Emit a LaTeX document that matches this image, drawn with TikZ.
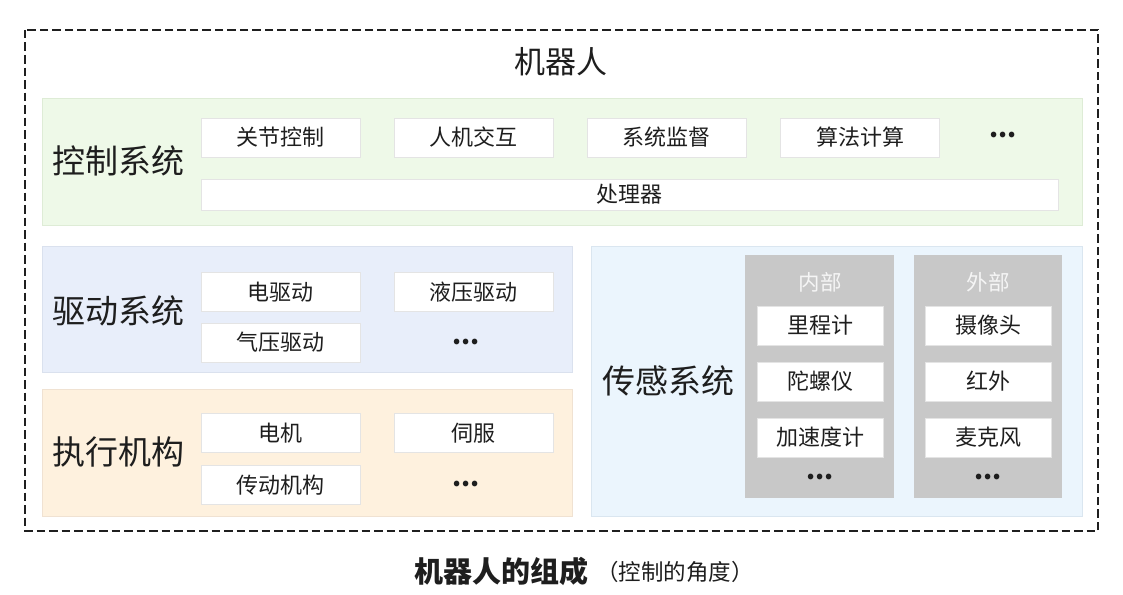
\documentclass[tikz,border=0pt]{standalone}
\usepackage{fontspec}
\setmainfont{Noto Sans CJK SC}
\definecolor{txt}{RGB}{30,30,30}
\definecolor{ctrlfill}{RGB}{238,249,232}
\definecolor{ctrldraw}{RGB}{222,236,214}
\definecolor{drvfill}{RGB}{232,238,250}
\definecolor{drvdraw}{RGB}{218,225,238}
\definecolor{actfill}{RGB}{254,241,222}
\definecolor{actdraw}{RGB}{240,226,210}
\definecolor{senfill}{RGB}{235,245,253}
\definecolor{sendraw}{RGB}{218,230,240}
\definecolor{colfill}{RGB}{200,200,200}
\definecolor{itemdraw}{RGB}{228,228,228}
\begin{document}
\begin{tikzpicture}[x=1pt,y=-1pt,
  panel/.style={line width=0.8pt},
  item/.style={draw=itemdraw, line width=0.8pt, fill=white, inner sep=0pt,
    minimum width=159pt, minimum height=39pt, text=txt,
    font=\fontsize{22}{26}\selectfont},
  sitem/.style={item, minimum width=126pt},
  seclabel/.style={text=txt, inner sep=0pt, font=\fontsize{33}{37}\selectfont},
  dots/.style={text=txt, inner sep=0pt, font=\fontsize{26}{30}\selectfont\bfseries},
  colhead/.style={text=white!96!black, inner sep=0pt, font=\fontsize{21.5}{25}\selectfont}
]
\useasboundingbox (0,0) rectangle (1123,594);
\fill[white] (0,0) rectangle (1123,594);

% outer frame
\draw[black!88, line width=1.8pt, dash pattern=on 8.5pt off 4pt] (25,30) rectangle (1098,531);
\node[text=txt, inner sep=0pt, font=\fontsize{31}{35}\selectfont] (title) at (561,62) {机器人};

% control system
\draw[panel, draw=ctrldraw, fill=ctrlfill] (42,98) rectangle (1082,225);
\node[seclabel] (ctrl) at (118,161) {控制系统};
\node[item] (c1) at (280.5,137.5) {关节控制};
\node[item] (c2) at (473.5,137.5) {人机交互};
\node[item] (c3) at (666.5,137.5) {系统监督};
\node[item] (c4) at (860,137.5) {算法计算};
\node[dots] (c5) at (1003,135) {...};
\node[item, minimum width=857pt, minimum height=31pt] (cpu) at (629.5,194.5) {处理器};

% drive system
\draw[panel, draw=drvdraw, fill=drvfill] (42,246) rectangle (572,372);
\node[seclabel] (drv) at (118,311) {驱动系统};
\node[item] (d1) at (280.5,292) {电驱动};
\node[item] (d2) at (473.5,292) {液压驱动};
\node[item] (d3) at (280.5,342.5) {气压驱动};
\node[dots] (d4) at (466,342) {...};

% actuators
\draw[panel, draw=actdraw, fill=actfill] (42,389) rectangle (572,516);
\node[seclabel] (act) at (118,452) {执行机构};
\node[item] (a1) at (280.5,433) {电机};
\node[item] (a2) at (473.5,433) {伺服};
\node[item] (a3) at (280.5,485) {传动机构};
\node[dots] (a4) at (466,484) {...};

% sensing system
\draw[panel, draw=sendraw, fill=senfill] (591,246) rectangle (1082,516);
\node[seclabel] (sen) at (668,381) {传感系统};
\fill[colfill] (745,255) rectangle (894,498);
\fill[colfill] (914,255) rectangle (1062,498);
\node[colhead] (inh) at (820,282) {内部};
\node[colhead] (exh) at (988,282) {外部};
\node[sitem] (i1) at (820,325.5) {里程计};
\node[sitem] (i2) at (820,381.5) {陀螺仪};
\node[sitem] (i3) at (820,437.5) {加速度计};
\node[dots] (i4) at (820,477) {...};
\node[sitem] (e1) at (988,325.5) {摄像头};
\node[sitem] (e2) at (988,381.5) {红外};
\node[sitem] (e3) at (988,437.5) {麦克风};
\node[dots] (e4) at (988,477) {...};

% caption
\node[anchor=west, text=txt, inner sep=0pt, font=\fontsize{29}{33}\selectfont\bfseries] (cap) at (414,571) {机器人的组成};
\node[anchor=west, text=txt, inner sep=0pt, font=\fontsize{22.5}{27}\selectfont] (capsub) at (596,572) {（控制的角度）};
\end{tikzpicture}
\end{document}
